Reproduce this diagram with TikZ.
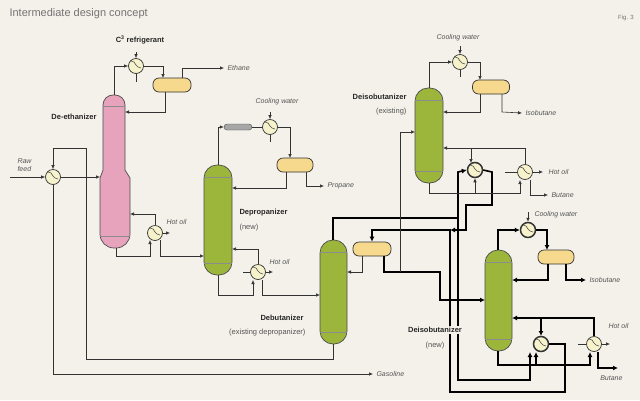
\documentclass[tikz,border=0pt]{standalone}
\usepackage{fontspec}
\setmainfont{Liberation Sans}
\usetikzlibrary{arrows.meta}
\definecolor{bg}{HTML}{F3F1EA}
\definecolor{pinkc}{HTML}{E7A3BC}
\definecolor{greenc}{HTML}{9CB63C}
\definecolor{drumc}{HTML}{F6D98C}
\definecolor{exc}{HTML}{F6F2CC}
\definecolor{txt}{HTML}{555555}
\tikzset{
 ln/.style={draw=black!80,line width=0.6pt},
 ar/.style={ln,-{Latex[length=4pt,width=3.5pt]}},
 thick ln/.style={draw=black,line width=1.6pt},
 thar/.style={thick ln,-{Latex[length=5pt,width=5pt]}},
 ex/.style={circle,draw=black!80,line width=0.7pt,fill=exc,minimum size=15pt,inner sep=0pt,
   path picture={\draw[black!70,line width=0.6pt] ([shift={(-5pt,5pt)}]path picture bounding box.center) -- ++(3pt,-1pt) -- ++(2pt,-3pt) -- ++(2pt,-2pt) -- ++(3pt,-1pt);}},
 drum/.style={rounded corners=6pt,draw=black!80,line width=0.7pt,fill=drumc,minimum height=14pt,inner sep=0pt},
 col/.style={draw=black!70,line width=0.7pt,fill=greenc,rounded corners=13pt},
 ring/.style={draw=black!45,line width=0.5pt},
 lab/.style={font=\itshape\fontsize{7}{8}\selectfont,text=txt},
 bl/.style={font=\bfseries\fontsize{7.5}{9}\selectfont,text=black!85},
 sub/.style={font=\fontsize{7.5}{9}\selectfont,text=txt},
}
\begin{document}
\begin{tikzpicture}[x=1pt,y=-1pt]
\useasboundingbox (0,0) rectangle (640,400);
\fill[bg] (0,0) rectangle (640,400);
\node[anchor=west,font=\fontsize{11}{12}\selectfont\scshape,text=black!55] (title) at (6,14) {Intermediate design concept};
\node[font=\fontsize{6}{7}\selectfont,text=black!55] (fig) at (626,18) {Fig. 3};

% columns
\path[draw=black!70,line width=0.7pt,fill=pinkc] (103,170) [rounded corners=10pt] -- (103,95) -- (125,95) [sharp corners] -- (125,170) -- (130,178) [rounded corners=14pt] -- (130,248) -- (100,248) [sharp corners] -- (100,178) -- cycle;
\draw[ring] (103,106) -- (125,106) (100,236) -- (130,236);
\node[bl,anchor=east] (deeth) at (100,117) {De-ethanizer};
\draw[col] (204,165) rectangle (232,275);
\draw[col] (320,240) rectangle (347,344);
\draw[col] (415,88) rectangle (443,183);
\draw[col] (485,250) rectangle (512,351);
\draw[ring] (204,177) -- (232,177) (204,263) -- (232,263)
  (320,252) -- (347,252) (320,332) -- (347,332)
  (415,100) -- (443,100) (415,171) -- (443,171)
  (485,262) -- (512,262) (485,339) -- (512,339);
\coordinate (dpT) at (218,165);
\node[bl,anchor=west] (dpl) at (236,213) {Depropanizer};
\node[sub,anchor=west] (dpl2) at (236,228) {(new)};
\node[bl,anchor=east] (dbl) at (307,318) {Debutanizer};
\node[sub,anchor=east] (dbl2) at (309,333) {(existing depropanizer)};
\node[bl,anchor=east] (dil) at (410,97) {Deisobutanizer};
\node[sub,anchor=east] (dil2) at (410,112) {(existing)};

% exchangers
\node[ex] (feedx) at (53,177) {};
\node[ex] (c3) at (136,66) {};
\node[ex] (rb1) at (155,233) {};
\node[ex] (cw1) at (270,127) {};
\node[ex] (rb2) at (258,272) {};
\node[ex] (cw2) at (460,62) {};
\node[ex,line width=1.5pt] (ix1) at (475,170) {};
\node[ex] (rb3) at (525,172) {};
\node[ex,line width=1.5pt] (cw3) at (528,230) {};
\node[ex,line width=1.5pt] (ix2) at (541,344) {};
\node[ex] (rb4) at (594,344) {};
\node[draw=black!70,fill=black!35,rounded corners=3pt,minimum width=28pt,minimum height=6pt,inner sep=0pt] (air) at (238,127) {};

% drums
\node[drum,minimum width=38pt] (d1) at (172,85) {};
\node[drum,minimum width=36pt] (d2) at (295,165) {};
\node[drum,minimum width=38pt] (d3) at (372,249) {};
\node[drum,minimum width=37pt] (d4) at (491,87) {};
\node[drum,minimum width=36pt] (d5) at (556,257) {};

% labels
\node[bl] (c3l) at (140,40) {C\textsuperscript{3} refrigerant};
\node[lab,anchor=west] (eth) at (224,68) {Ethane};
\node[lab,align=left,anchor=west] (raw) at (14,165) {Raw\\feed};
\node[lab,anchor=west] (ho1) at (163,222) {Hot oil};
\node[lab] (cwl1) at (277,102) {Cooling water};
\node[lab,anchor=west] (prop) at (324,186) {Propane};
\node[lab,anchor=west] (ho2) at (266,262) {Hot oil};
\node[lab] (cwl2) at (458,38) {Cooling water};
\node[lab,anchor=west] (ibu1) at (522,113) {Isobutane};
\node[lab,anchor=west] (ho3) at (545,172) {Hot oil};
\node[lab,anchor=west] (bu1) at (548,195) {Butane};
\node[lab,anchor=west] (cwl3) at (531,215) {Cooling water};
\node[lab,anchor=west] (ibu2) at (586,280) {Isobutane};
\node[lab,anchor=west] (ho4) at (605,326) {Hot oil};
\node[lab,anchor=east] (bu2) at (626,378) {Butane};
\node[lab,anchor=west] (gas) at (373,374) {Gasoline};

% De-ethanizer connections
\draw[ar] (114,95) -- (114,66) -- (c3.west);
\draw[ar] (c3.east) -- (163,66) -- (163,78);
\draw[ar] (136,52) -- (c3.north);
\draw[ln] (c3.south) -- (136,82);
\draw[ar] (165,92) -- (165,112) -- (125,112);
\draw[ar] (182,78) -- (182,68) -- (eth.west);
\draw[ar] (10,177) -- (feedx.west);
\draw[ar] (feedx.east) -- (100,177);
\draw[ar] (333,344) -- (333,359) -- (86,359) -- (86,148) -- (53,148) -- (feedx.north);
\draw[ar] (feedx.south) -- (53,374) -- (gas.west);
\draw[ar] (116,248) -- (116,256) -- (150,256) -- (150,240);
\draw[ar] (155,225) -- (155,214) -- (130,214);
\draw[ar] (160,240) -- (160,256) -- (204,256);
\draw[ar] (rb1.east) -- (170,233);

% Depropanizer
\draw[ar] (dpT) -- (218,127) -- (air.west);
\draw[ln] (air.east) -- (cw1.west);
\draw[ar] (cw1.east) -- (290,127) -- (290,158);
\draw[ar] (270,112) -- (cw1.north);
\draw[ln] (cw1.south) -- (270,142);
\draw[ar] (286,172) -- (286,188) -- (232,188);
\draw[ar] (306,172) -- (306,186) -- (prop.west);
\draw[ar] (218,275) -- (218,295) -- (253,295) -- (253,280);
\draw[ar] (258,264) -- (258,249) -- (232,249);
\draw[ar] (262,280) -- (262,295) -- (320,295);
\draw[ar] (rb2.east) -- (273,272);
\draw[ln] (243,272) -- (rb2.west);

% Debutanizer
\draw[thar] (333,240) -- (333,218) -- (458,218) -- (458,380) -- (530,380) -- (530,352);
\draw[thar] (ix2.east) -- (565,344) -- (565,392) -- (450,392) -- (450,230) -- (372,230) -- (d3.north);
\draw[thar] (458,218) -- (458,172) -- (ix1.west);
\draw[thar] (ix1.east) -- (492,172) -- (492,205) -- (466,205) -- (466,230) -- (450,230);
\draw[ar] (362,256) -- (362,272) -- (347,272);
\draw[thar] (384,256) -- (384,272) -- (440,272) -- (440,300) -- (485,300);
\draw[ar] (400,272) -- (400,132) -- (415,132);

% Existing DIB
\draw[ar] (429,88) -- (429,62) -- (cw2.west);
\draw[ar] (cw2.east) -- (480,62) -- (480,80);
\draw[ar] (460,46) -- (cw2.north);
\draw[ln] (cw2.south) -- (460,77);
\draw[ar] (480,94) -- (480,112) -- (443,112);
\draw[ar] (502,94) -- (502,112) -- (ibu1.west);
\draw[ar] (525,164) -- (525,148) -- (443,148);
\draw[ar] (471,148) -- (471,163);
\draw[ar] (429,183) -- (429,193) -- (520,193) -- (520,180);
\draw[ar] (475,193) -- (ix1.south);
\draw[ar] (530,180) -- (530,195) -- (bu1.west);
\draw[ar] (rb3.east) -- (543,172);
\draw[ln] (505,172) -- (rb3.west);

% New DIB
\draw[thar] (498,250) -- (498,230) -- (cw3.west);
\draw[thar] (cw3.east) -- (547,230) -- (547,250);
\draw[ar] (528,212) -- (cw3.north);
\draw[thar] (548,264) -- (548,280) -- (512,280);
\draw[thar] (566,264) -- (566,280) -- (ibu2.west);
\draw[thar] (594,336) -- (594,318) -- (512,318);
\draw[thar] (541,318) -- (541,336);
\draw[thar] (498,351) -- (498,365) -- (590,365) -- (590,352);
\draw[thar] (536,365) -- (536,352);
\draw[thar] (598,352) -- (598,368) -- (618,368);
\draw[ar] (rb4.east) -- (610,344);
\draw[ln] (578,344) -- (rb4.west);

\node[bl,fill=bg,inner sep=1pt] (dnl) at (435,330) {Deisobutanizer};
\node[sub,fill=bg,inner sep=1pt] (dnl2) at (435,346) {(new)};
\end{tikzpicture}
\end{document}
